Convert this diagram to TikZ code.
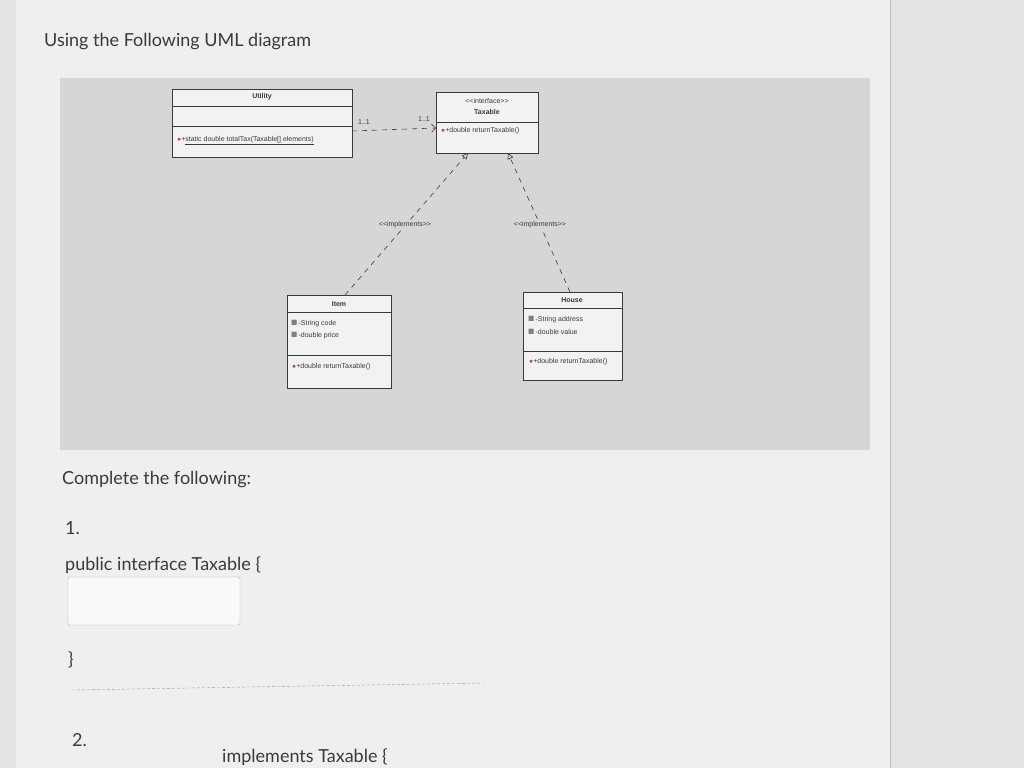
\documentclass[tikz,border=0pt]{standalone}
\usepackage{amssymb}
\usepackage{fontspec}
\setmainfont{Lato}
\newfontfamily\uml{Liberation Sans}
\usetikzlibrary{arrows.meta}
\definecolor{pagebg}{HTML}{E4E4E4}
\definecolor{card}{HTML}{EFEFEF}
\definecolor{panel}{HTML}{D6D6D6}
\definecolor{boxbg}{HTML}{F2F2F2}
\definecolor{ink}{HTML}{3A3A3A}
\tikzset{
  cls/.style={draw=ink,fill=boxbg,line width=0.7pt},
  sep/.style={draw=ink,line width=0.6pt},
  ut/.style={font=\uml\fontsize{7}{8}\selectfont,text=ink,inner sep=0pt},
  utb/.style={ut,font=\uml\bfseries\fontsize{7}{8}\selectfont},
  utl/.style={ut,anchor=west},
  big/.style={font=\fontsize{18}{21}\selectfont,text=ink,anchor=west,inner sep=0pt},
  dep/.style={draw=ink,dashed,dash pattern=on 5pt off 5pt,line width=0.6pt},
  real/.style={dep,-{Triangle[open,length=6pt,width=6pt]}},
}
\begin{document}
\begin{tikzpicture}[x=1pt,y=-1pt]
\clip (0,0) rectangle (1024,768);
\fill[pagebg] (0,0) rectangle (1024,768);
\fill[card] (16,0) rectangle (890,768);
\draw[black!25] (890,0) -- (890,768);
\node[big] (title) at (44,42) {Using the Following UML diagram};
\fill[panel] (60,78) rectangle (870,450);
% Utility
\draw[cls] (172,89) rectangle (352,157);
\draw[sep] (172,106) -- (352,106); \draw[sep] (172,126) -- (352,126);
\node[utb] (utn) at (262,97) {Utility};
\node[utl] (utm) at (177,140) {\textcolor{red!40!gray}{$\bullet$}+static double totalTax(Taxable[] elements)};
\draw[ink,line width=0.5pt] ([xshift=8pt,yshift=-1pt]utm.south west) -- ([yshift=-1pt]utm.south east);
\coordinate (uR) at (352,131);
% Taxable
\draw[cls] (436,92) rectangle (538,153);
\draw[sep] (436,122) -- (538,122);
\node[ut] (tx1) at (487,101) {<<interface>>};
\node[utb] (tx2) at (487,112) {Taxable};
\node[utl] (txm) at (441,131) {\textcolor{red!40!gray}{$\bullet$}+double returnTaxable()};
\coordinate (tL) at (436,128);
\coordinate (tB1) at (468,153);
\coordinate (tB2) at (508,153);
% Item
\draw[cls] (287,295) rectangle (391,388);
\draw[sep] (287,312) -- (391,312); \draw[sep] (287,355) -- (391,355);
\node[utb] (itn) at (339,304) {Item};
\node[utl] (ita) at (291,324) {\textcolor{gray}{$\blacksquare$}\,-String code};
\node[utl] (itb) at (291,336) {\textcolor{gray}{$\blacksquare$}\,-double price};
\node[utl] (itm) at (292,367) {\textcolor{red!40!gray}{$\bullet$}+double returnTaxable()};
\coordinate (iT) at (345,295);
% House
\draw[cls] (523,292) rectangle (622,380);
\draw[sep] (523,308) -- (622,308); \draw[sep] (523,351) -- (622,351);
\node[utb] (hon) at (572,300) {House};
\node[utl] (hoa) at (528,320) {\textcolor{gray}{$\blacksquare$}\,-String address};
\node[utl] (hob) at (528,332) {\textcolor{gray}{$\blacksquare$}\,-double value};
\node[utl] (hom) at (529,362) {\textcolor{red!40!gray}{$\bullet$}+double returnTaxable()};
\coordinate (hT) at (570,292);
% connectors
\draw[dep,-{Straight Barb[length=4pt]}] (uR) -- (tL);
\node[ut] (m1) at (364,122) {1..1};
\node[ut] (m2) at (424,119) {1..1};
\draw[real] (iT) -- (tB1);
\draw[real] (hT) -- (tB2);
\node[ut,fill=panel,inner sep=1pt] (imp1) at (405,225) {<<implements>>};
\node[ut,fill=panel,inner sep=1pt] (imp2) at (540,225) {<<implements>>};
% lower text
\node[big] (cf) at (62,480) {Complete the following:};
\node[big] (n1) at (65,528) {1.};
\node[big] (pi) at (65,565) {public interface Taxable \{};
\draw[black!30,fill=white!60!card,rounded corners=2pt] (68,577) rectangle (240,625);
\node[big] (cb) at (68,660) {\}};
\draw[black!40,dashed,dash pattern=on 3pt off 2pt] (72,690) -- (484,683);
\node[big] (n2) at (72,740) {2.};
\node[big] (im) at (222,757) {implements Taxable \{};
\end{tikzpicture}
\end{document}
